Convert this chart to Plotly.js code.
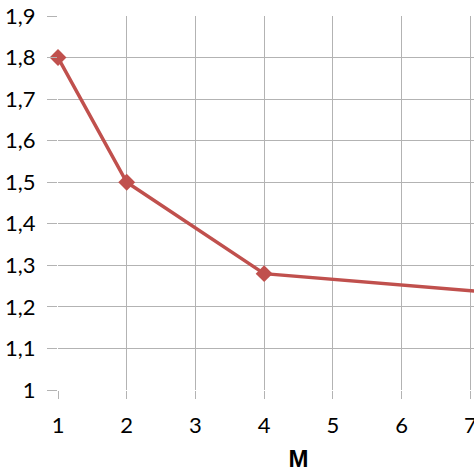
<!DOCTYPE html>
<html><head><meta charset="utf-8">
<script src="https://cdn.plot.ly/plotly-3.0.1.min.js"></script>
<style>html,body{margin:0;padding:0;overflow:hidden;width:474px;height:474px;background:#fff}</style>
</head><body><div id="chart"></div>
<script>
const mValues = [1, 2, 4, 8];
const ratioValues = [1.8, 1.5, 1.28, 1.225];
const xTitle = "M";

const trace = {
  x: mValues, y: ratioValues, type: 'scatter', mode: 'lines+markers',
  line: {color: '#c0504d', width: 3.5},
  marker: {symbol: 'diamond', size: 13, color: '#c0504d'},
  cliponaxis: false
};
const layout = {
  width: 560, height: 474,
  margin: {l: 58, r: 21, t: 16, b: 84},
  separators: ', ',
  paper_bgcolor: '#fff', plot_bgcolor: '#fff',
  font: {family: 'Lato, "Open Sans", sans-serif', size: 22, color: '#000'},
  showlegend: false,
  xaxis: {
    range: [1, 8], dtick: 1, tick0: 1, showgrid: true, gridcolor: '#b3b3b3', gridwidth: 1,
    ticks: 'outside', ticklen: 8, tickcolor: '#b3b3b3', zeroline: false, showline: false,
    title: {text: '<b>' + xTitle + '</b>', font: {size: 24, family: '"Liberation Sans", Arial, sans-serif'}, standoff: 12},
    ticklabelstandoff: 8
  },
  yaxis: {
    range: [1, 1.9], dtick: 0.1, tick0: 1, showgrid: true, gridcolor: '#b3b3b3', gridwidth: 1,
    ticks: 'outside', ticklen: 10, tickcolor: '#b3b3b3', zeroline: false, showline: false,
    ticklabelstandoff: 7
  }
};
Plotly.newPlot('chart', [trace], layout, {staticPlot: true, displayModeBar: false});
</script></body></html>
